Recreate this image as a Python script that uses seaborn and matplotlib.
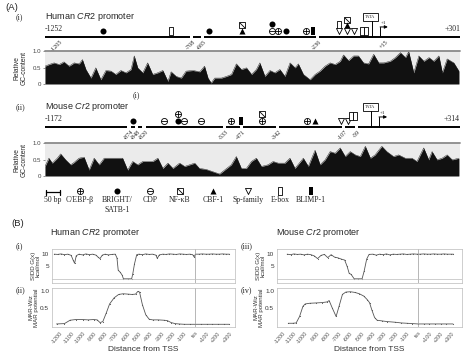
import matplotlib
matplotlib.use("Agg")
import matplotlib.pyplot as plt
from matplotlib.patches import Rectangle
import seaborn as sns

sns.set_style("white")
plt.rcParams['font.family'] = ['Liberation Sans', 'DejaVu Sans']
plt.rcParams['mathtext.fontset'] = 'custom'
plt.rcParams['mathtext.rm'] = 'Liberation Sans'
plt.rcParams['mathtext.it'] = 'Liberation Sans:italic'
SERIF = ['Liberation Serif', 'DejaVu Serif']

# ---- panel A : promoter maps ----
human_start, human_end = -1252, 301
mouse_start, mouse_end = -1172, 314
human_breaks = [-708, -665, -236]
mouse_breaks = [-874, -848, -820, -533, -471, -342, -107, -59]
human_marks = ['-1205', '-708', '-665', '-236', '+15']
human_mark_pos = [-1205, -708, -665, -236, 15]
mouse_marks = ['-874', '-848', '-820', '-533', '-471', '-342', '-107', '-59']
mouse_mark_pos = [-874, -848, -820, -533, -471, -342, -107, -59]

human_site_type = ['BRIGHT', 'Ebox', 'BRIGHT', 'NFkB', 'CBF1', 'BRIGHT', 'CDP', 'CEBP', 'BRIGHT',
                   'CEBP', 'BLIMP', 'Ebox', 'Sp', 'NFkB', 'CBF1', 'Sp', 'Sp', 'Ebox', 'Ebox']
human_site_pos = [-1035, -780, -638, -515, -515, -403, -403, -380, -350,
                  -275, -249, -150, -150, -122, -122, -122, -96, -66, -51]
human_site_row = [1, 1, 1, 2, 1, 2.1, 1, 1, 1, 1, 1, 2, 1, 2.9, 2, 1, 1, 1, 1]

mouse_site_type = ['BRIGHT', 'CDP', 'CEBP', 'BRIGHT', 'CDP', 'CDP', 'CEBP', 'BLIMP', 'NFkB', 'CEBP',
                   'CEBP', 'CBF1', 'Sp', 'Sp', 'Ebox', 'Ebox']
mouse_site_pos = [-857, -746, -694, -696, -674, -613, -506, -470, -395, -395,
                  -234, -205, -112, -87, -76, -62]
mouse_site_row = [1, 1, 2.1, 1, 1, 1, 1, 1, 2.1, 1, 1, 1, 1, 1, 1.8, 1.8]

# TATA box (left, right), stem, +1 arrow start / end  (bp)
human_tata = [-62, -6, -28, 2, 31]
mouse_tata = [-33, 20, -5, 24, 53]

# ---- relative GC content ----
human_gc_pos = [-1252, -1237, -1218, -1199, -1181, -1162, -1143, -1124, -1112, -1099,
                -1080, -1062, -1043, -1024, -1005, -987, -968, -949, -930, -918,
                -905, -886, -868, -849, -830, -811, -792, -780, -761, -742,
                -724, -698, -673, -655, -642, -630, -617, -592, -573, -554,
                -536, -517, -498, -479, -461, -448, -429, -410, -392, -373,
                -354, -335, -316, -304, -285, -260, -241, -223, -204, -185,
                -166, -147, -135, -116, -97, -79, -60, -41, -22, -3,
                15, 40, 59, 78, 97, 109, 128, 147, 166, 185,
                203, 222, 235, 253, 278, 297]
human_gc_val = [0.54, 0.59, 0.64, 0.59, 0.67, 0.54, 0.64, 0.61, 0.74, 0.44,
                0.18, 0.49, 0.13, 0.41, 0.39, 0.29, 0.41, 0.34, 0.44, 0.85,
                0.49, 0.34, 0.64, 0.29, 0.34, 0.41, 0.08, 0.37, 0.23, 0.18,
                0.39, 0.41, 0.37, 0.54, 0.18, 0.03, 0.18, 0.18, 0.23, 0.29,
                0.61, 0.44, 0.49, 0.29, 0.44, 0.64, 0.23, 0.41, 0.34, 0.44,
                0.23, 0.64, 0.49, 0.61, 0.29, 0.13, 0.29, 0.39, 0.54, 0.64,
                0.59, 0.69, 0.88, 0.71, 0.85, 0.85, 0.64, 0.61, 0.90, 0.64,
                0.64, 0.69, 0.80, 0.95, 0.80, 0.98, 0.34, 0.85, 0.69, 0.80,
                0.69, 0.85, 0.34, 0.76, 0.64, 0.39]
mouse_gc_pos = [-1172, -1158, -1146, -1128, -1116, -1098, -1080, -1068, -1050, -1032,
                -1014, -996, -978, -960, -942, -918, -894, -876, -858, -840,
                -822, -804, -786, -768, -750, -732, -714, -690, -672, -654,
                -636, -619, -595, -571, -547, -529, -505, -487, -469, -451,
                -433, -415, -397, -373, -355, -337, -313, -295, -277, -247,
                -229, -217, -205, -187, -169, -151, -133, -115, -97, -79,
                -61, -43, -25, -7, 10, 34, 52, 76, 94, 118,
                142, 160, 184, 202, 214, 232, 250, 268, 286, 310]
mouse_gc_val = [0.29, 0.54, 0.39, 0.54, 0.67, 0.49, 0.34, 0.41, 0.54, 0.57,
                0.18, 0.54, 0.34, 0.54, 0.54, 0.54, 0.54, 0.18, 0.44, 0.34,
                0.44, 0.44, 0.44, 0.54, 0.23, 0.39, 0.23, 0.39, 0.29, 0.34,
                0.39, 0.23, 0.20, 0.13, 0.06, 0.18, 0.34, 0.59, 0.23, 0.23,
                0.44, 0.54, 0.29, 0.34, 0.44, 0.39, 0.39, 0.54, 0.23, 0.54,
                0.29, 0.54, 0.78, 0.34, 0.49, 0.74, 0.69, 0.85, 0.59, 0.74,
                0.64, 0.59, 0.90, 0.54, 0.64, 0.90, 0.74, 0.59, 0.64, 0.54,
                0.54, 0.44, 0.85, 0.49, 0.74, 0.49, 0.54, 0.64, 0.49, 0.54]

# ---- panel B : SIDD and MAR-Wiz profiles ----
human_sidd_pos = [-1250, -1220, -1190, -1160, -1130, -1100, -1085, -1070, -1055, -1030,
                  -1000, -970, -940, -910, -880, -860, -845, -825, -800, -770,
                  -740, -710, -695, -684, -665, -648, -638, -600, -565, -555,
                  -540, -520, -500, -470, -440, -410, -380, -350, -338, -320,
                  -290, -260, -230, -200, -170, -140, -110, -80, -50, -25,
                  -12, 0, 30, 60, 90, 120, 150, 180, 210, 240, 270, 300]
human_sidd_val = [10.0, 9.9, 10.1, 9.8, 10.0, 9.5, 7.8, 6.3, 9.4, 10.0,
                  9.7, 10.1, 9.8, 10.0, 9.6, 8.7, 8.2, 9.6, 10.0, 9.7,
                  9.9, 10.0, 8.5, 3.5, 2.6, 1.4, 0.0, 0.0, 0.0, 2.0,
                  6.0, 9.8, 10.0, 9.8, 10.1, 9.9, 10.0, 9.6, 8.3, 9.7,
                  10.0, 9.9, 10.1, 10.0, 9.9, 10.1, 10.0, 9.9, 10.0, 9.8,
                  8.9, 10.0, 10.0, 10.1, 10.0, 10.0, 10.1, 10.0, 10.0, 10.1, 10.0, 10.0]
mouse_sidd_pos = [-1160, -1130, -1100, -1070, -1040, -1010, -980, -950, -920, -890,
                  -860, -830, -800, -770, -740, -710, -680, -650, -628, -610,
                  -593, -566, -530, -496, -478, -455, -434, -400, -370, -340,
                  -310, -280, -250, -220, -190, -160, -130, -100, -70, -40,
                  -10, 20, 50, 80, 110, 140, 170, 200, 230, 260, 290, 314]
mouse_sidd_val = [10.0, 9.8, 10.1, 9.9, 10.0, 9.7, 10.0, 9.8, 9.3, 8.2,
                  9.5, 9.9, 8.6, 9.8, 8.8, 8.5, 8.0, 7.6, 5.0, 2.2,
                  1.8, 0.0, 0.0, 0.0, 3.0, 8.0, 9.9, 10.0, 9.6, 10.0,
                  9.8, 10.1, 9.7, 10.0, 9.9, 10.0, 10.1, 9.9, 10.0, 10.1,
                  10.0, 10.0, 10.1, 10.0, 10.0, 10.1, 10.0, 10.0, 10.1, 10.0, 10.0, 10.0]
human_mar_pos = [-1230, -1160, -1110, -1060, -1000, -950, -900, -870, -845, -820,
                 -790, -760, -720, -680, -640, -600, -560, -530, -510, -495,
                 -470, -440, -410, -380, -330, -280, -250, -215, -180, -150,
                 -100, -50, 0, 50, 100, 150, 200, 250, 300]
human_mar_val = [0.03, 0.04, 0.14, 0.16, 0.16, 0.15, 0.16, 0.15, 0.07, 0.10,
                 0.35, 0.62, 0.80, 0.90, 0.92, 0.91, 0.90, 0.91, 0.99, 0.97,
                 0.60, 0.30, 0.17, 0.15, 0.15, 0.14, 0.13, 0.07, 0.04, 0.03,
                 0.02, 0.02, 0.02, 0.02, 0.02, 0.02, 0.02, 0.02, 0.02]
mouse_mar_pos = [-1150, -1110, -1080, -1050, -1020, -1000, -960, -900, -850, -805,
                 -788, -760, -726, -700, -670, -640, -600, -560, -520, -480,
                 -451, -430, -410, -385, -363, -320, -274, -200, -150, -97,
                 -50, 0, 50, 100, 150, 200, 250, 310]
mouse_mar_val = [0.05, 0.05, 0.06, 0.25, 0.55, 0.62, 0.64, 0.65, 0.66, 0.68,
                 0.72, 0.50, 0.25, 0.55, 0.90, 0.97, 0.98, 0.96, 0.92, 0.85,
                 0.75, 0.66, 0.45, 0.22, 0.14, 0.12, 0.10, 0.08, 0.06, 0.05,
                 0.04, 0.03, 0.03, 0.03, 0.03, 0.03, 0.03, 0.03]

dist_ticks = [-1200, -1100, -1000, -900, -800, -700, -600, -500, -400, -300, -200, -100, 0, 100, 200, 300]
dist_labels = ['-1200', '-1100', '-1000', '-900', '-800', '-700', '-600', '-500', '-400',
               '-300', '-200', '-100', 'tss', '+100', '+200', '+300']

legend_keys = ['CEBP', 'BRIGHT', 'CDP', 'NFkB', 'CBF1', 'Sp', 'Ebox', 'BLIMP']
legend_names = ['C/EBP-β', 'BRIGHT/\nSATB-1', 'CDP', 'NF-κB', 'CBF-1', 'Sp-family', 'E-box', 'BLIMP-1']

W, H = 474, 356
fig = plt.figure(figsize=(W / 100, H / 100), dpi=100)


def px_axes(x0, y0, x1, y1):
    return fig.add_axes([x0 / W, 1 - y1 / H, (x1 - x0) / W, (y1 - y0) / H])


RECT = [(-0.4, -1), (0.4, -1), (0.4, 1), (-0.4, 1), (-0.4, -1)]
DIAG = [(-1, 1), (1, -1)]


def symbol(ax, kind, x, y, s=19):
    kw = dict(zorder=5, clip_on=False)
    if kind == 'BRIGHT':
        ax.scatter(x, y, s=s, marker='o', color='k', lw=0, **kw)
    elif kind in ('CEBP', 'CDP'):
        ax.scatter(x, y, s=s, marker='o', facecolor='white', edgecolor='k', lw=0.6, **kw)
        ax.scatter(x, y, s=s * 0.75, marker='+' if kind == 'CEBP' else '_', color='k', lw=0.6, **kw)
    elif kind == 'NFkB':
        ax.scatter(x, y, s=s * 0.8, marker='s', facecolor='white', edgecolor='k', lw=0.6, **kw)
        ax.scatter(x, y, s=s * 0.8, marker=DIAG, color='k', lw=0.6, **kw)
    elif kind == 'CBF1':
        ax.scatter(x, y, s=s, marker='^', color='k', lw=0, **kw)
    elif kind == 'Sp':
        ax.scatter(x, y, s=s, marker='v', facecolor='white', edgecolor='k', lw=0.6, **kw)
    elif kind == 'Ebox':
        ax.scatter(x, y, s=s * 1.6, marker=RECT, facecolor='white', edgecolor='k', lw=0.6, **kw)
    elif kind == 'BLIMP':
        ax.scatter(x, y, s=s * 1.6, marker=RECT, color='k', lw=0, **kw)


def draw_map(ax, start, end, breaks, marks, mark_pos, types, pos, rows, tata):
    ax.set_xlim(start, end)
    ax.set_ylim(-2.17, 4.83)
    ax.axis('off')
    edges = [start]
    for b in breaks:
        edges += [b - 3, b + 9]
    edges.append(end)
    for a, b in zip(edges[::2], edges[1::2]):
        ax.plot([a, b], [0, 0], color='k', lw=1.4, solid_capstyle='butt')
    for t, p, r in zip(types, pos, rows):
        symbol(ax, t, p, r)
    for lab, p in zip(marks, mark_pos):
        ax.text(p + 8, -0.4, lab, rotation=45, ha='right', va='top', rotation_mode='anchor',
                fontsize=4.4, family=SERIF)
    left, right, stem, a0, a1 = tata
    ax.add_patch(Rectangle((left, 2.67), right - left, 1.4, fill=False, lw=0.6, ec='k'))
    ax.text((left + right) / 2, 3.37, 'TATA', ha='center', va='center', fontsize=3.2, family=SERIF)
    ax.plot([stem, stem], [0, 2.67], color='k', lw=0.7)
    ax.plot([a0, a0], [0, 1.67], color='k', lw=0.7)
    ax.annotate('', xy=(a1, 1.67), xytext=(a0, 1.67),
                arrowprops=dict(arrowstyle='-|>', lw=0.7, color='k', mutation_scale=4.5,
                                shrinkA=0, shrinkB=0))
    ax.text(a0 + 3, 2.4, '+1', fontsize=3.7, family=SERIF, ha='left', va='center')


def draw_gc(ax, pos, val, start, end):
    ax.set_facecolor('#ebebeb')
    ax.fill_between(pos, 0, val, color='#111111', lw=0)
    sns.lineplot(x=pos, y=val, color='#111111', lw=0.3, ax=ax)
    ax.set_xlim(start, end)
    ax.set_ylim(0, 1.0)
    ax.axhline(1.0, color='#8a8a8a', lw=1.3, clip_on=False)
    for sp in ax.spines.values():
        sp.set_visible(False)
    ax.set_xticks([])
    ax.set_yticks([0, 0.5, 1.0])
    ax.set_yticklabels(['0', '0.5', '1.0'])
    ax.tick_params(axis='y', left=True, length=1.5, width=0.4, pad=1, labelsize=4.4,
                   colors='#444444')
    ax.set_xlabel('')
    ax.set_ylabel('')


def draw_profile(ax, pos, val, ylim, yticks, ylabels, ylabel, xlim, bottom):
    sns.lineplot(x=pos, y=val, ax=ax, color='#555555', lw=0.6, marker='.', markersize=1.6,
                 markeredgewidth=0)
    ax.axvline(0, color='#9a9a9a', lw=0.5)
    ax.set_xlim(*xlim)
    ax.set_ylim(*ylim)
    ax.set_yticks(yticks)
    ax.set_yticklabels(ylabels)
    ax.set_ylabel(ylabel, fontsize=4.4, labelpad=1, linespacing=1.0, color='#333333')
    for sp in ax.spines.values():
        sp.set_color('#bbbbbb')
        sp.set_linewidth(0.5)
    ax.tick_params(axis='y', length=0, pad=2, labelsize=4.6, colors='#333333')
    ax.set_xticks(dist_ticks)
    if bottom:
        ax.set_xticklabels(dist_labels, rotation=50, ha='right', rotation_mode='anchor')
        ax.tick_params(axis='x', length=0, pad=2.5, labelsize=4.0, colors='#555555')
        ax.set_xlabel('Distance from TSS', fontsize=6.0, labelpad=1, color='#333333')
    else:
        ax.set_xticklabels([])
        ax.tick_params(axis='x', length=0)
        ax.set_xlabel('')


# panel A
ax = px_axes(45, 8, 460, 50)
draw_map(ax, human_start, human_end, human_breaks, human_marks, human_mark_pos,
         human_site_type, human_site_pos, human_site_row, human_tata)
ax = px_axes(45, 51, 460, 84)
draw_gc(ax, human_gc_pos, human_gc_val, human_start, human_end)
ax = px_axes(45, 98, 460, 140)
draw_map(ax, mouse_start, mouse_end, mouse_breaks, mouse_marks, mouse_mark_pos,
         mouse_site_type, mouse_site_pos, mouse_site_row, mouse_tata)
ax = px_axes(45, 143, 460, 176)
draw_gc(ax, mouse_gc_pos, mouse_gc_val, mouse_start, mouse_end)

# panel B
sidd_lim, mar_lim = (-1.7, 12.1), (-0.06, 1.09)
ax = px_axes(52, 249, 235, 283)
draw_profile(ax, human_sidd_pos, human_sidd_val, sidd_lim, [5, 10], ['5', '10'],
             'SIDD G(x)\nkcal/mol', (-1270, 350), False)
ax.axhline(0, color='#bbbbbb', lw=0.5)
ax = px_axes(52, 288, 235, 327)
draw_profile(ax, human_mar_pos, human_mar_val, mar_lim, [0.5, 1.0], ['0.5', '1.0'],
             'MAR-Wiz\nMAR potential', (-1270, 350), True)
ax = px_axes(277, 249, 462, 283)
draw_profile(ax, mouse_sidd_pos, mouse_sidd_val, sidd_lim, [5, 10], ['5', '10'],
             'SIDD G(x)\nkcal/mol', (-1250, 390), False)
ax.axhline(0, color='#bbbbbb', lw=0.5)
ax = px_axes(277, 288, 462, 327)
draw_profile(ax, mouse_mar_pos, mouse_mar_val, mar_lim, [0.5, 1.0], ['0.5', '1.0'],
             'MAR-Wiz\nMAR potential', (-1250, 390), True)

# overlay for free text and legend
ov = fig.add_axes([0, 0, 1, 1], zorder=10)
ov.set_xlim(0, W)
ov.set_ylim(H, 0)
ov.axis('off')
ov.patch.set_alpha(0)

ov.text(5, 8, '(A)', fontsize=6.8, va='center')
ov.text(16, 17, '(i)', fontsize=5.6, va='center', family=SERIF)
ov.text(45, 17, 'Human $\\mathit{CR2}$ promoter', fontsize=6.5, va='center')
ov.text(45, 29, '-1252', fontsize=5.6, va='center', family=SERIF)
ov.text(460, 29, '+301', fontsize=5.6, va='center', ha='right', family=SERIF)
ov.text(21, 68, 'Relative\nGC-content', fontsize=4.8, rotation=90, ha='center', va='center',
        linespacing=1.0)
ov.text(133, 95, '(i)', fontsize=5.6, va='center', family=SERIF)
ov.text(16, 107, '(ii)', fontsize=5.6, va='center', family=SERIF)
ov.text(45, 107, 'Mouse $\\mathit{Cr2}$ promoter', fontsize=6.5, va='center')
ov.text(45, 119, '-1172', fontsize=5.6, va='center', family=SERIF)
ov.text(460, 119, '+314', fontsize=5.6, va='center', ha='right', family=SERIF)
ov.text(21, 160, 'Relative\nGC-content', fontsize=4.8, rotation=90, ha='center', va='center',
        linespacing=1.0)

# legend row
ov.plot([46, 60], [192, 192], color='k', lw=0.9)
ov.plot([46, 46], [189.5, 194.5], color='k', lw=0.9)
ov.plot([60, 60], [189.5, 194.5], color='k', lw=0.9)
ov.text(53, 196, '50 bp', fontsize=5.6, ha='center', va='top', family=SERIF)
for k, name, x in zip(legend_keys, legend_names, [80, 117, 150, 180, 213, 248, 280, 311]):
    symbol(ov, k, x, 191)
    ov.text(x, 196, name, fontsize=5.6, ha='center', va='top', family=SERIF, linespacing=1.25)

ov.text(11, 223, '(B)', fontsize=6.8, va='center')
ov.text(50, 233, 'Human $\\mathit{CR2}$ promoter', fontsize=6.5, va='center')
ov.text(276, 233, 'Mouse $\\mathit{Cr2}$ promoter', fontsize=6.5, va='center')
ov.text(16, 246, '(i)', fontsize=5.8, va='center', family=SERIF)
ov.text(241, 246, '(iii)', fontsize=5.8, va='center', family=SERIF)
ov.text(16, 290, '(ii)', fontsize=5.8, va='center', family=SERIF)
ov.text(241, 290, '(iv)', fontsize=5.8, va='center', family=SERIF)

fig.savefig('out.png', dpi=100)
